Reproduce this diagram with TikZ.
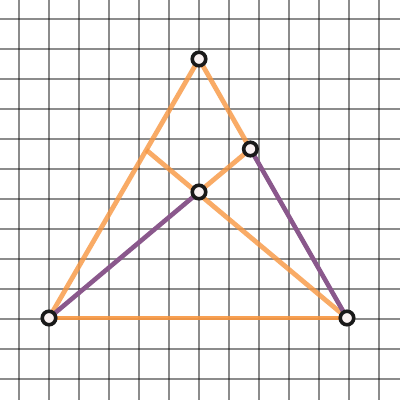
\documentclass[tikz,border=0pt]{standalone}
\definecolor{segorange}{RGB}{248,150,64}
\definecolor{segpurple}{RGB}{138,88,140}
\definecolor{dotfill}{RGB}{250,242,242}
\tikzset{
  seg/.style={line width=4.8pt,segorange,opacity=.8},
  cev/.style={line width=4.6pt,segpurple},
  vtx/.style={circle,draw=black!90,line width=3.6pt,fill=dotfill,inner sep=0pt,minimum size=13.5pt}
}
\begin{document}
\begin{tikzpicture}[x=1pt,y=-1pt]
\useasboundingbox (0,0) rectangle (400,400);
\fill[white] (0,0) rectangle (400,400);
\foreach \g in {19,49,...,379} {
  \draw[line width=1.9pt,black,opacity=.45] (\g,0) -- (\g,400);
  \draw[line width=1.9pt,black,opacity=.45] (0,\g) -- (400,\g);
}
\coordinate (A) at (49,318);
\coordinate (B) at (347,318);
\coordinate (C) at (199,59);
\coordinate (D) at (250.4,149);
\coordinate (E) at (146.3,150);
\coordinate (P) at (199,192);
\draw[seg] (A) -- (C);
\draw[seg,opacity=.9] (A) -- (B);
\draw[seg] (C) -- (D);
\draw[seg] (P) -- (D);
\draw[seg] (E) -- (B);
\draw[cev] (A) -- (P);
\draw[cev] (D) -- (B);
\foreach \p in {A,B,C,D,P}
  \node[vtx] (v\p) at (\p) {};
\end{tikzpicture}
\end{document}
